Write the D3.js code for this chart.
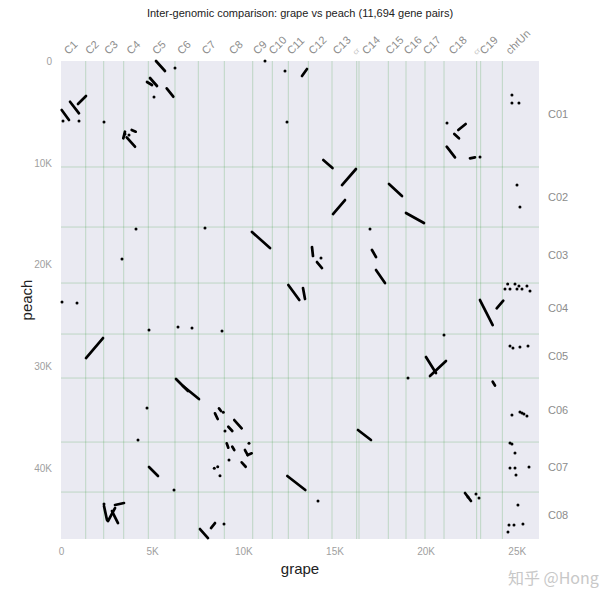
<!DOCTYPE html>
<html lang="en">
<head>
    <meta charset="UTF-8">
    <title>grape vs peach</title>
    <script src="https://cdn.jsdelivr.net/npm/d3@7"></script>
    <style>
        body { margin: 0; background: #fff; }
        text { font-family: "Liberation Sans", Arial, sans-serif; }
    </style>
</head>
<body>
    <script>
        const width = 600;
        const height = 600;

        // chromosomes (sizes in genes)
        const grapeChrs = ["C1","C2","C3","C4","C5","C6","C7","C8","C9","C10","C11","C12","C13","cr","C14","C15","C16","C17","C18","cr","C19","chrUn"];
        const grapeSizes = [1355,987,1097,1350,1464,1279,1426,1558,1075,878,1097,1300,1355,126,1607,971,1042,1043,1790,220,1190,2010];
        const peachChrs = ["C01","C02","C03","C04","C05","C06","C07","C08"];
        const peachSizes = [10410,5900,5500,5010,4320,6290,4910,4610];

        const xTicks = [0,5000,10000,15000,20000,25000];
        const yTicks = [0,10000,20000,30000,40000];

        // synteny runs: [grape start, peach start, grape end, peach end]
        const blocks = [
            [38,4813,439,5796],[494,3998,987,5137],[932,4224,1371,3438],
            [3510,6945,3417,7593],[3878,6778,4097,6945],[3604,7495,4059,8418],
            [5211,0,5704,982],[4882,1670,5266,2456],[4717,2063,4992,2358],[5798,2682,6160,3507],
            [13219,1473,13494,786],
            [21792,6778,22198,6189],[21573,7170,21830,7593],[21156,8418,21611,9460],[22434,9558,22708,9460],
            [14387,9725,14892,10510],[15413,12181,16181,10609],[14920,15029,15578,13654],
            [17991,12083,18704,13261],[18923,14931,19910,15913],
            [10476,16797,11464,18369],[13767,18271,13822,19155],[14041,19744,14316,20334],
            [17058,18565,17278,19253],[17278,20530,17772,21807],
            [12469,22003,13072,23477],[13274,22298,13384,23379],
            [22983,23477,23680,25933],[23899,24292,24261,23546],
            [1371,29174,2304,27210],[20020,29076,20569,30647],[20240,30942,21117,29469],
            [6308,31237,6966,32416],[6692,31925,7569,33202],
            [8447,34606,8595,35166],[8666,34116,8776,34381],
            [9177,35925,9396,36346],[9505,35265,9911,36080],
            [9089,37553,9177,37985],[9396,37887,9505,38212],
            [10092,38212,10241,38703],[10241,38703,10460,38536],[9911,39420,10131,39852],
            [16290,36247,17004,37229],[23680,31502,23806,31876],
            [4827,39881,5321,40765],[12414,40765,13402,42140],
            [2359,43712,2523,45087],[2578,45185,2962,43909],[2797,44204,3126,45381],[2962,43614,3456,43418],
            [7624,45972,8063,46856],[8228,45873,8447,45382],
            [22160,42435,22489,43221]
        ];

        // isolated gene pairs: [grape, peach]
        const pairs = [
            [110,5894],[987,5894],[2359,5992],[3510,7171],[3730,7269],
            [5101,3536],[6253,688],[11189,0],[12286,982],[12396,5992],
            [21172,6090],[22983,9430],[24737,3340],[24737,4126],[25121,4126],
            [25012,12181],[25176,14342],
            [16949,16503],[4114,16503],[7898,16405],[3346,19450],[14261,19351],
            [878,23772],[55,23673],
            [24501,21905],[24354,22396],[24628,22396],[24902,21905],[25012,22396],
            [25286,22396],[25560,22101],[25725,22592],[25121,22101],
            [4827,26424],[6418,26129],[7185,26228],[8831,26522],[21008,26915],
            [19034,31139],
            [24628,27996],[24792,28192],[25176,28094],[25615,27996],
            [4717,34086],[4223,37229],
            [8902,34508],[8995,36346],[9215,39193],[10312,37553],
            [24737,34774],[25176,34479],[25286,34577],[25395,34676],[25560,34872],
            [8409,40009],[8595,39852],[8721,40736],[6198,42140],[14097,43221],
            [24628,37524],[24737,37622],[24902,38506],[24628,39979],[24902,39979],
            [24957,40667],[25670,39881],
            [8941,45480],[22763,42533],[22928,42926],[22325,42828],
            [25066,43614],[24573,45578],[24847,45578],[25340,45480],[24518,46267],
            [2359,43516]
        ];

        const xTotal = d3.sum(grapeSizes);
        const yTotal = d3.sum(peachSizes);

        const x = d3.scaleLinear().domain([0, xTotal]).range([61, 539]);
        const y = d3.scaleLinear().domain([0, yTotal]).range([61, 539]);

        const xStarts = d3.cumsum([0].concat(grapeSizes.slice(0, -1)));
        const yStarts = d3.cumsum([0].concat(peachSizes.slice(0, -1)));

        const svg = d3.select('body').append('svg')
            .attr('width', width)
            .attr('height', height);

        svg.append('rect')
            .attr('x', x(0)).attr('y', y(0))
            .attr('width', x(xTotal) - x(0))
            .attr('height', y(yTotal) - y(0))
            .attr('fill', '#eaeaf2');

        // chromosome boundaries
        const grid = svg.append('g')
            .attr('stroke', '#008000')
            .attr('stroke-opacity', 0.28)
            .attr('stroke-width', 0.7);
        xStarts.slice(1).forEach(function(d){
            grid.append('line')
                .attr('x1', x(d)).attr('x2', x(d))
                .attr('y1', y(0)).attr('y2', y(yTotal));
        });
        yStarts.slice(1).forEach(function(d){
            grid.append('line')
                .attr('x1', x(0)).attr('x2', x(xTotal))
                .attr('y1', y(d)).attr('y2', y(d));
        });

        // dots
        svg.append('g')
            .selectAll('.block')
            .data(blocks)
            .enter()
            .append('line')
            .attr('class', 'block')
            .attr('x1', function(d){ return x(d[0]); })
            .attr('y1', function(d){ return y(d[1]); })
            .attr('x2', function(d){ return x(d[2]); })
            .attr('y2', function(d){ return y(d[3]); })
            .attr('stroke', '#000')
            .attr('stroke-width', 2.7)
            .attr('stroke-linecap', 'round');

        svg.append('g')
            .selectAll('.pair')
            .data(pairs)
            .enter()
            .append('circle')
            .attr('class', 'pair')
            .attr('cx', function(d){ return x(d[0]); })
            .attr('cy', function(d){ return y(d[1]); })
            .attr('r', 1.5)
            .attr('fill', '#000');

        // axes
        const fmt = function(d){ return d === 0 ? '0' : (d / 1000) + 'K'; };
        const xAxis = svg.append('g')
            .attr('transform', 'translate(0,' + (y(yTotal) + 6) + ')')
            .call(d3.axisBottom(x).tickValues(xTicks).tickFormat(fmt).tickSize(0));
        const yAxis = svg.append('g')
            .attr('transform', 'translate(' + (x(0) - 6) + ',0)')
            .call(d3.axisLeft(y).tickValues(yTicks).tickFormat(fmt).tickSize(0));
        [xAxis, yAxis].forEach(function(a){
            a.select('.domain').remove();
            a.selectAll('text')
                .attr('fill', '#a0a0a0')
                .style('font-size', '10px')
                .style('font-family', '"Liberation Sans", Arial, sans-serif');
        });

        // top chromosome labels
        const topG = svg.append('g');
        grapeChrs.forEach(function(name, i){
            const small = grapeSizes[i] < 300;
            const cx = x(xStarts[i] + grapeSizes[i] / 2);
            const t = topG.append('text')
                .text(name)
                .attr('fill', small ? '#bbb' : '#8c8c8c')
                .style('font-size', small ? '7px' : '11px');
            const w = t.node().getComputedTextLength() * Math.SQRT1_2;
            t.attr('transform', 'translate(' + (cx - w / 2) + ',55) rotate(-45)');
        });

        // right chromosome labels
        svg.append('g')
            .selectAll('text')
            .data(peachChrs)
            .enter()
            .append('text')
            .attr('x', 548)
            .attr('y', function(d, i){ return y(yStarts[i] + peachSizes[i] / 2); })
            .attr('dy', '0.35em')
            .attr('fill', '#8c8c8c')
            .style('font-size', '11px')
            .text(function(d){ return d; });

        svg.append('text')
            .attr('x', 300).attr('y', 17)
            .attr('text-anchor', 'middle')
            .attr('fill', '#222')
            .style('font-size', '11px')
            .text('Inter-genomic comparison: grape vs peach (11,694 gene pairs)');

        svg.append('text')
            .attr('x', 300).attr('y', 574)
            .attr('text-anchor', 'middle')
            .attr('fill', '#222')
            .style('font-size', '15px')
            .text('grape');

        svg.append('text')
            .attr('transform', 'translate(32,300) rotate(-90)')
            .attr('text-anchor', 'middle')
            .attr('fill', '#222')
            .style('font-size', '15px')
            .text('peach');

        svg.append('text')
            .attr('x', 508).attr('y', 584)
            .attr('fill', '#c8c8c8')
            .style('font-size', '16px')
            .style('font-family', '"Noto Sans CJK SC", sans-serif')
            .text('知乎 @Hong');
    </script>
</body>
</html>
